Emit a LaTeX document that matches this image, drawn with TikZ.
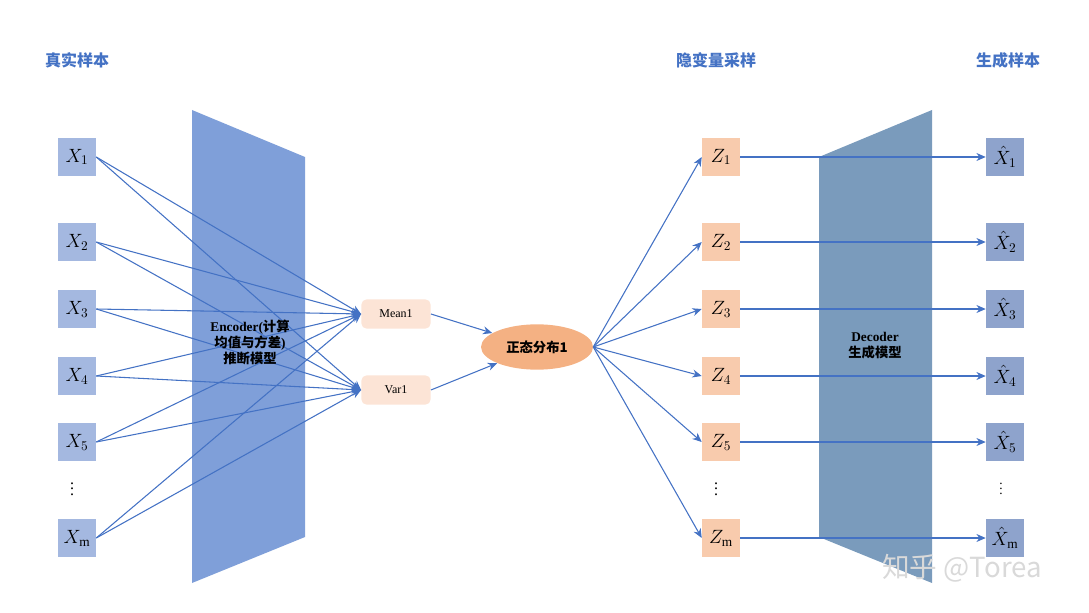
\documentclass[tikz,border=0pt]{standalone}
\usepackage{fontspec}
\setmainfont{Liberation Serif}
\newfontfamily\cjk{Noto Sans CJK SC}
\usetikzlibrary{arrows.meta,shapes.geometric}
\definecolor{ln}{HTML}{4472C4}
\definecolor{xb}{HTML}{A4B8E0}
\definecolor{zb}{HTML}{F8CBAD}
\definecolor{hb}{HTML}{8EA3CC}
\definecolor{enc}{HTML}{7F9FD9}
\definecolor{dec}{HTML}{7A9BBC}
\definecolor{mv}{HTML}{FCE4D6}
\definecolor{el}{HTML}{F4B183}
\begin{document}
\begin{tikzpicture}[x=0.75pt,y=-0.75pt,
  xbox/.style={fill=xb,minimum width=28.5pt,minimum height=28.5pt,inner sep=0pt,font=\Large},
  zbox/.style={xbox,fill=zb},
  hbox/.style={xbox,fill=hb},
  mvbox/.style={fill=mv,rounded corners=4pt,minimum width=52pt,minimum height=22pt,inner sep=0pt,font=\small},
  conn/.style={draw=ln,line width=0.8pt},
  arr/.style={conn,-{Stealth[length=7pt,width=6pt]}},
  hdr/.style={text=ln,font=\cjk\bfseries\large}]
\useasboundingbox (0,0) rectangle (1089,613);
\fill[enc] (192,110) -- (305,157) -- (305,537) -- (192,583) -- cycle;
\fill[dec] (819,157) -- (932,110) -- (932,583) -- (819,537) -- cycle;
\node[hdr] (h1) at (77,60) {真实样本};
\node[hdr] (h2) at (716,60) {隐变量采样};
\node[hdr] (h3) at (1008,60) {生成样本};
\foreach \i/\y/\s in {1/157/1,2/242/2,3/309/3,4/376/4,5/442/5,m/538/\mathrm{m}}{
  \node[xbox] (x\i) at (77,\y) {$X_{\s}$};
  \node[zbox] (z\i) at (721,\y) {$Z_{\s}$};
  \node[hbox] (r\i) at (1005,\y) {$\hat{X}_{\s}$};
}
\node[font=\large] (d1) at (72,485) {$\vdots$};
\node[font=\large] (d2) at (716,485) {$\vdots$};
\node (d3) at (1001,485) {$\vdots$};
\node[mvbox] (mean) at (396,314) {Mean1};
\node[mvbox] (var) at (396,390) {Var1};
\node[ellipse,fill=el,minimum width=84pt,minimum height=34pt,inner sep=0pt,font=\cjk\bfseries] (nd) at (537,347) {正态分布1};
\foreach \i in {1,2,3,4,5,m}{
  \draw[arr] (x\i.east) -- (mean.west);
  \draw[arr] (x\i.east) -- (var.west);
  \draw[arr] (nd.east) -- (z\i.west);
  \draw[arr] (z\i.east) -- (r\i.west);
}
\draw[arr] (mean.east) -- (nd);
\draw[arr] (var.east) -- (nd);
\node[align=center,font=\bfseries,inner sep=0pt] (enct) at (250,342) {Encoder({\cjk 计算}\\{\cjk 均值与方差})\\{\cjk 推断模型}};
\node[align=center,font=\bfseries,inner sep=0pt] (dect) at (875,346) {Decoder\\{\cjk 生成模型}};
\node[text=black!15,font=\cjk\huge] (wm) at (962,568) {知乎 @Torea};
\end{tikzpicture}
\end{document}
